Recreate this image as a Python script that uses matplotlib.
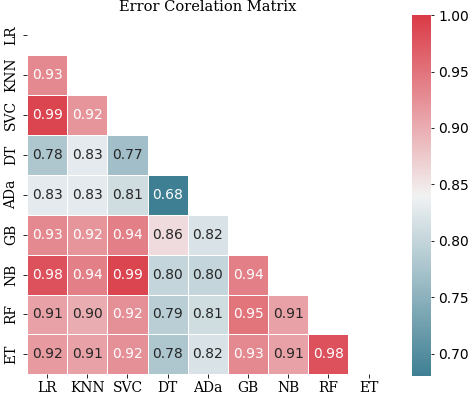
import numpy as np
import matplotlib
matplotlib.use("Agg")
import matplotlib.pyplot as plt
import seaborn as sns

models = ["LR", "KNN", "SVC", "DT", "ADa", "GB", "NB", "RF", "ET"]

# lower triangle rows (without the diagonal)
row_knn = [0.93]
row_svc = [0.99, 0.92]
row_dt = [0.78, 0.83, 0.77]
row_ada = [0.83, 0.83, 0.81, 0.68]
row_gb = [0.93, 0.92, 0.94, 0.86, 0.82]
row_nb = [0.98, 0.94, 0.99, 0.80, 0.80, 0.94]
row_rf = [0.91, 0.90, 0.924, 0.79, 0.81, 0.95, 0.91]
row_et = [0.916, 0.91, 0.924, 0.78, 0.82, 0.93, 0.91, 0.98]

rows = [[], row_knn, row_svc, row_dt, row_ada, row_gb, row_nb, row_rf, row_et]
n = len(models)
corr = np.ones((n, n))
for i, r in enumerate(rows):
    for j, v in enumerate(r):
        corr[i, j] = v
        corr[j, i] = v

mask = np.triu(np.ones_like(corr, dtype=bool))
cmap = sns.diverging_palette(220, 10, as_cmap=True)

fig = plt.figure(figsize=(4.74, 3.97), dpi=100)
ax = fig.add_axes([0.057, 0.057, 0.763, 0.905])
cax = fig.add_axes([0.869, 0.052, 0.04, 0.91])

sns.heatmap(corr, mask=mask, cmap=cmap, vmax=1.0, annot=True, fmt=".2f",
            linewidths=0.5, linecolor="white", square=False,
            annot_kws={"fontsize": 10, "family": "DejaVu Sans"},
            ax=ax, cbar_ax=cax)

ax.set_xticklabels(models, family="DejaVu Serif", fontsize=10, rotation=0)
ax.set_yticklabels(models, family="DejaVu Serif", fontsize=10, rotation=90,
                   va="center")
ax.set_title("Error Corelation Matrix", family="DejaVu Serif", fontsize=10.5,
             pad=3)
ax.tick_params(length=3, width=0.6)
ax.tick_params(axis="x", pad=2)
cax.tick_params(labelsize=10, length=2, width=0.6)
cax.set_yticks([0.70, 0.75, 0.80, 0.85, 0.90, 0.95, 1.00])
cax.set_yticklabels([f"{t:.2f}" for t in [0.70, 0.75, 0.80, 0.85, 0.90, 0.95, 1.00]])

fig.savefig("out.png", dpi=100)
